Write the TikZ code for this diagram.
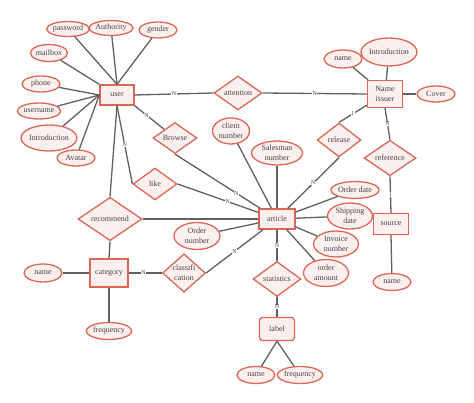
\documentclass[tikz,border=0pt]{standalone}
\usepackage{fontspec}
\setmainfont{Liberation Serif}
\usetikzlibrary{shapes.geometric}
\definecolor{bd}{HTML}{DC6658}
\definecolor{fl}{HTML}{FCF0EE}
\definecolor{ln}{HTML}{606060}
\definecolor{tx}{HTML}{454545}
\tikzset{
  base/.style={draw=bd,fill=fl,line width=1.3pt,text=tx,inner sep=0pt,align=center,font=\fontsize{8}{10}\selectfont},
  ent/.style={base,rectangle},
  rel/.style={base,diamond},
  attr/.style={base,ellipse},
  lnk/.style={draw=ln,line width=1.3pt},
  card/.style={fill=white,inner sep=0.4pt,text=tx,font=\fontsize{6}{6}\selectfont}
}
\begin{document}
\begin{tikzpicture}[x=1pt,y=-1pt]
\useasboundingbox (0,0) rectangle (474,403);
% entities
\node[ent,minimum width=34pt,minimum height=20pt] (user) at (117,95) {user};
\node[ent,minimum width=35pt,minimum height=27pt] (issuer) at (385,94) {Name\\issuer};
\node[ent,minimum width=36pt,minimum height=20pt] (article) at (277,219) {article};
\node[ent,minimum width=35pt,minimum height=21pt] (source) at (391,224) {source};
\node[ent,minimum width=38pt,minimum height=28pt] (category) at (109,273) {category};
\node[ent,rounded corners=3pt,minimum width=35pt,minimum height=23pt] (label) at (277,329) {label};
% relationships
\node[rel,minimum width=48pt,minimum height=34pt] (attention) at (238,93) {attention};
\node[rel,minimum width=44pt,minimum height=31pt] (browse) at (175,138) {Browse};
\node[rel,minimum width=44pt,minimum height=32pt] (like) at (155,184) {like};
\node[rel,minimum width=44pt,minimum height=34pt] (release) at (339,140) {release};
\node[rel,minimum width=52pt,minimum height=35pt] (reference) at (390,158) {reference};
\node[rel,minimum width=64pt,minimum height=35pt] (recommend) at (110,219) {recommend};
\node[rel,minimum width=43pt,minimum height=36pt] (classif) at (184,273) {classifi\\cation};
\node[rel,minimum width=48pt,minimum height=35pt] (statistics) at (277,279) {statistics};
% user attributes
\node[attr,minimum width=38pt,minimum height=15pt] (password) at (68,29) {password};
\node[attr,minimum width=37pt,minimum height=15pt] (authority) at (111,28) {Authority};
\node[attr,minimum width=38pt,minimum height=16pt] (gender) at (158,30) {gender};
\node[attr,minimum width=37pt,minimum height=17pt] (mailbox) at (49,53) {mailbox};
\node[attr,minimum width=38pt,minimum height=16pt] (phone) at (41,84) {phone};
\node[attr,minimum width=37pt,minimum height=16pt] (username) at (39,111) {username};
\node[attr,minimum width=44pt,minimum height=26pt] (uintro) at (49,138) {Introduction};
\node[attr,minimum width=38pt,minimum height=16pt] (avatar) at (76,158) {Avatar};
% issuer attributes
\node[attr,minimum width=38pt,minimum height=18pt] (iname) at (343,59) {name};
\node[attr,minimum width=47pt,minimum height=28pt] (iintro) at (389,52) {Introduction};
\node[attr,minimum width=38pt,minimum height=16pt] (cover) at (436,94) {Cover};
% article attributes
\node[attr,minimum width=37pt,minimum height=26pt] (client) at (231,131) {client\\number};
\node[attr,minimum width=51pt,minimum height=24pt] (salesman) at (277,153) {Salesman\\number};
\node[attr,minimum width=45pt,minimum height=17pt] (odate) at (355,190) {Order date};
\node[attr,minimum width=45pt,minimum height=26pt] (sdate) at (350,216) {Shipping\\date};
\node[attr,minimum width=45pt,minimum height=26pt] (invoice) at (336,244) {Invoice\\number};
\node[attr,minimum width=45pt,minimum height=27pt] (amount) at (326,273) {order\\amount};
\node[attr,minimum width=46pt,minimum height=27pt] (onumber) at (197,236) {Order\\number};
% category attributes
\node[attr,minimum width=38pt,minimum height=18pt] (cname) at (43,273) {name};
\node[attr,minimum width=38pt,minimum height=17pt] (cfreq) at (109,331) {frequency};
% source attribute
\node[attr,minimum width=38pt,minimum height=17pt] (sname) at (392,282) {name};
% label attributes
\node[attr,minimum width=38pt,minimum height=17pt] (lname) at (256,375) {name};
\node[attr,minimum width=37pt,minimum height=17pt] (lfreq) at (300,375) {frequency};
% connectors
\foreach \a in {password,authority,gender}
  \draw[lnk] (user.north) -- (\a);
\draw[lnk] (user.north west) -- (mailbox);
\foreach \a in {phone,username,uintro,avatar}
  \draw[lnk] (user.west) -- (\a);
\foreach \a in {iname,iintro,cover}
  \draw[lnk] (issuer) -- (\a);
\foreach \a in {client,salesman,odate,sdate,invoice,amount,onumber}
  \draw[lnk] (article) -- (\a);
\draw[lnk] (user.east) -- node[card]{N} (attention.west);
\draw[lnk] (attention.east) -- node[card]{N} (issuer.west);
\draw[lnk] (user.south east) -- node[card,pos=0.4]{N} (browse);
\draw[lnk] (browse.south) -- node[card,pos=0.72]{N} (article);
\draw[lnk] (user.south) -- node[card]{N} (like.west);
\draw[lnk] (like.east) -- node[card,pos=0.62]{N} (article);
\draw[lnk] (user.south) -- (recommend.north);
\draw[lnk] (recommend.east) -- (article.west);
\draw[lnk] (recommend.south) -- (category.north);
\draw[lnk] (category.west) -- (cname);
\draw[lnk] (category.south) -- (cfreq);
\draw[lnk] (category.east) -- node[card,pos=0.45]{N} (classif.west);
\draw[lnk] (classif.east) -- node[card]{N} (article);
\draw[lnk] (issuer) -- node[card]{1} (release.north);
\draw[lnk] (release.south) -- node[card]{N} (article);
\draw[lnk] (issuer.south) -- node[card]{N} (reference.north);
\draw[lnk] (reference.south) -- node[card]{1} (source.north);
\draw[lnk] (source.south) -- (sname);
\draw[lnk] (article.south) -- node[card]{N} (statistics.north);
\draw[lnk] (statistics.south) -- node[card]{N} (label.north);
\draw[lnk] (label.south) -- (lname);
\draw[lnk] (label.south) -- (lfreq);
\end{tikzpicture}
\end{document}
